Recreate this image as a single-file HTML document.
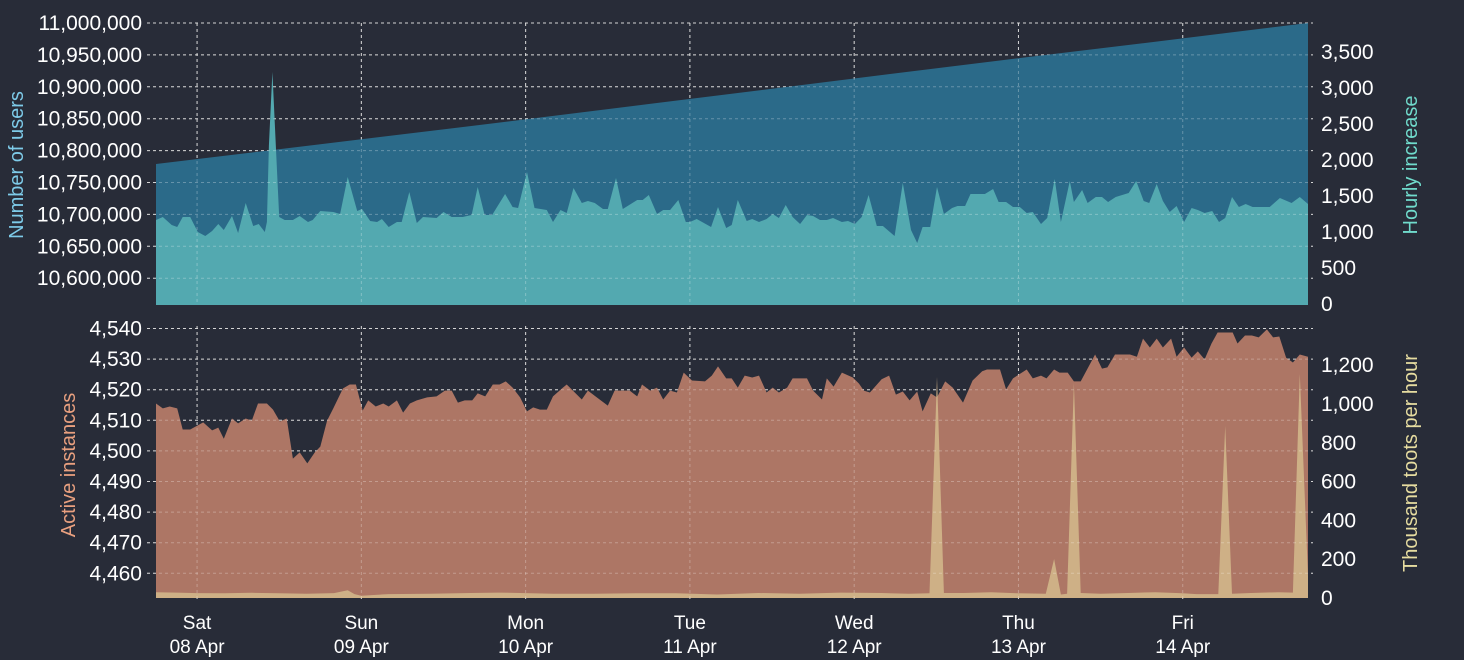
<!DOCTYPE html>
<html><head><meta charset="utf-8"><style>
html,body{margin:0;padding:0;background:#282c38;}
svg{display:block;font-family:"Liberation Sans",sans-serif;}
</style></head><body>
<svg id="chart" width="1464" height="660" viewBox="0 0 1464 660" xmlns="http://www.w3.org/2000/svg">
<rect width="1464" height="660" fill="#282c38"/>
<g id="under"></g><g id="marks"></g><g id="over"></g><g id="labels"></g>
</svg>
<script>
// ---- data ----
const userHours = [0,24,48,72,96,120,144,168.3];
const userValues = [10779000,10810000,10841000,10873000,10905000,10937000,10968000,11000000];
const incHours = [0,1,2.3,3.1,3.9,5,6.1,7.2,8.2,9.1,9.9,11.1,12,13.1,14.2,15,15.9,16.2,16.5,17,17.6,18,18.8,20,21,22.2,22.9,24,25.9,26.9,28,29.4,30.1,31.3,32.3,33,34,35.2,35.9,37,38.1,39,41,42,43.2,44.8,46.1,47,48,49.1,51,52.1,52.9,54.2,55.3,57.1,58,59.1,60,61,62.2,63.1,64.1,65.3,66,67.2,68.2,70.3,71.1,72,73.2,74.1,75.1,76.3,77.4,78,79,81.1,82.1,83.3,84.1,85,86.3,87.1,88.1,89.2,90.1,91,92,93,94.1,95.1,96,97,98,98.9,100.2,101.1,102.1,103.1,104.1,105.3,106.2,107.9,109.1,110.3,111.2,112,113.1,114.1,115.1,116.3,117.1,118.2,119,121.1,122.3,123.1,124.2,125.2,126.2,127.2,128.1,129.3,130.2,131.3,132.2,133.5,134.1,135.3,136.1,137.3,138.2,139.1,140.2,142.1,143.2,144.3,145.1,146.2,147.1,148.1,149.1,150.2,151.3,152.2,153.2,154.3,155.3,156.2,157.2,158.2,159.2,160.2,162.7,164.2,165.9,167.1,168.3];
const incValues = [1167,1208,1097,1069,1208,1208,1000,944,1014,1111,1028,1222,986,1403,1083,1111,1000,1139,2200,3222,2000,1208,1167,1167,1222,1139,1167,1292,1278,1250,1764,1292,1319,1153,1139,1181,1069,1139,1139,1556,1125,1208,1194,1278,1208,1208,1236,1625,1236,1236,1528,1347,1333,1833,1333,1306,1139,1306,1264,1611,1403,1431,1403,1319,1319,1750,1319,1444,1444,1514,1250,1306,1306,1444,1139,1139,1181,1069,1347,1056,1097,1444,1153,1181,1139,1181,1250,1194,1375,1208,1111,1236,1222,1167,1167,1194,1139,1153,1111,1208,1514,1083,1083,944,1681,1028,847,1069,1069,1625,1250,1333,1361,1361,1528,1528,1597,1417,1417,1347,1347,1264,1278,1111,1194,1736,1139,1708,1417,1583,1403,1486,1486,1417,1486,1542,1708,1431,1403,1667,1431,1278,1361,1139,1333,1306,1264,1292,1139,1194,1486,1347,1389,1347,1347,1472,1403,1486,1389];
const instHours = [0,1,2,3.1,3.9,5,6.9,8.2,9.1,9.9,11.1,12,13.1,14,14.9,16.2,17.1,18.1,19.1,20,21,22.1,23.2,24,25,25.9,27.3,28.3,29.2,30.2,31,32.1,33.2,34,35.2,36.1,37.1,38.1,39.6,41,42.2,43.2,44.1,45.1,46.2,47,48.1,49.2,50.2,51.1,52.1,53.2,54.2,55.1,56.1,57.1,58,59.3,60,60.9,62.2,63.1,64.4,66,67,69.2,70.3,71,72.2,73.2,74.1,75.1,76.1,77.1,78.3,80.2,81.2,82.1,83.3,84.1,85,86,87.1,88.1,89.2,90.1,91,92.2,93,95.1,96,97.3,98,99,100.2,101.8,102.7,103.4,104.3,106,107.1,108.1,109.1,110.1,111.2,112,113.2,114.1,115.3,116.4,117.9,119.3,120.7,121.4,123.3,124.2,125.2,126.1,127.2,128.1,129.3,130.1,131.2,132,133.2,134.1,135.1,137.2,138.2,139,140.1,142.3,143.3,144.2,145.2,146.2,147.1,148.3,149.1,150.2,151.3,152.2,153.2,154.2,155.1,157.3,158,159.1,160.1,161.1,162.3,163.2,164.1,165.1,166.1,167.1,168.3];
const instValues = [4515.5,4513.9,4514.5,4513.9,4507,4507,4509.3,4506.7,4507.6,4504,4510.6,4509,4510.6,4509.9,4515.5,4515.5,4513.5,4509.6,4510.6,4497.5,4499.5,4495.9,4499.5,4501.4,4509.9,4513.9,4520.4,4521.7,4521.7,4513.2,4516.5,4514.5,4515.5,4514.5,4516.5,4512.5,4515.5,4516.5,4517.5,4517.8,4519.7,4519.7,4515.8,4516.5,4516.5,4518.8,4517.8,4521.7,4521.7,4522.7,4520.7,4517.5,4512.9,4514.2,4513.5,4513.5,4517.8,4520.4,4521.7,4519.7,4516.8,4519.7,4517.5,4514.8,4519.7,4519.7,4517.8,4521.7,4519.7,4520.7,4516.8,4519.7,4519.1,4525.6,4523,4522.7,4524.6,4527.6,4523.7,4523.7,4520.7,4524.6,4524,4524.6,4519.1,4520.7,4519.1,4520.7,4523.7,4523.7,4519.7,4516.8,4523.7,4521,4525.6,4524,4522,4519.7,4519.1,4523.4,4524.6,4518.4,4519.4,4516.5,4519.4,4512.9,4518.8,4517.5,4522.7,4520.7,4515.8,4523,4526,4526.6,4526.6,4520.1,4523.7,4525,4526.6,4523.7,4524.6,4523.7,4526.6,4525.6,4525.6,4522.7,4522.7,4531.5,4526.9,4527.3,4531.5,4531.5,4530.8,4536.7,4533.8,4536.7,4533.8,4536.7,4530.8,4533.8,4530.5,4532.5,4529.9,4535.1,4538.7,4538.7,4535.1,4537.7,4537.7,4537.1,4539.7,4537.1,4537.4,4530.5,4528.9,4531.5,4530.8];
const tootHours = [0,3,6,10,14,18,22,26,28,29,30,34,40,46,50,54,58,64,70,76,82,88,94,100,106,110,113,114.1,115.1,118,122,126,130,131.2,132.2,133.1,134.1,135.1,138,142,146,150,152,155.2,156.2,157.2,160,164,166.1,167.1,168.3];
const tootValues = [30,28,25,24,27,24,22,25,40,20,12,20,22,26,28,25,22,22,24,24,18,26,22,28,26,22,24,1139,26,26,30,24,22,201,18,22,1108,26,22,26,30,24,20,20,887,22,26,30,28,1155,113];
const userTicks = [10600000,10650000,10700000,10750000,10800000,10850000,10900000,10950000,11000000];
const incTicks = [0,500,1000,1500,2000,2500,3000,3500];
const instTicks = [4460,4470,4480,4490,4500,4510,4520,4530,4540];
const tootTicks = [0,200,400,600,800,1000,1200];
const dayHours = [6,30,54,78,102,126,150];
const dayNames = ["Sat","Sun","Mon","Tue","Wed","Thu","Fri"];
const dayDates = ["08 Apr","09 Apr","10 Apr","11 Apr","12 Apr","13 Apr","14 Apr"];

// ---- scales ----
const X0=156, X1=1308, HMAX=168.3;
const xS = h => X0 + h*(X1-X0)/HMAX;
const TOP0=23, TOP1=305, BOT0=328, BOT1=598;
const yU = v => 23 + (11000000-v)*31.9/50000;
const yI = v => 304 - v*0.072;
const yA = v => 328.5 + (4540-v)*3.06;
const yT = v => 598 - v*0.194;

const NS="http://www.w3.org/2000/svg";
const G = id => document.getElementById(id);
function mk(tag, attrs, parent){const e=document.createElementNS(NS,tag);for(const k in attrs)e.setAttribute(k,attrs[k]);parent.appendChild(e);return e;}
function area(hs, vs, ys, base){
  let d="M"+xS(hs[0]).toFixed(1)+","+base;
  for(let i=0;i<hs.length;i++) d+="L"+xS(hs[i]).toFixed(1)+","+ys(vs[i]).toFixed(1);
  d+="L"+xS(hs[hs.length-1]).toFixed(1)+","+base+"Z";return d;
}
const under=G('under'), marks=G('marks'), over=G('over'), labels=G('labels');

// grid under
function grid(parent, color){
  userTicks.forEach(t=>{const l=mk('line',{x1:147,x2:1313,y1:yU(t),y2:yU(t),stroke:color,'stroke-width':1,'stroke-dasharray':'3,3'},parent);
    
    });
  instTicks.forEach(t=>{const l=mk('line',{x1:147,x2:1313,y1:yA(t),y2:yA(t),stroke:color,'stroke-width':1,'stroke-dasharray':'3,3'},parent);
    
    });
  dayHours.forEach(h=>{const x=xS(h);
    const a=mk('line',{x1:x,x2:x,y1:TOP0,y2:TOP1,stroke:color,'stroke-width':1,'stroke-dasharray':'3,3'},parent);
    
    
    const b=mk('line',{x1:x,x2:x,y1:BOT0-2,y2:BOT1+4,stroke:color,'stroke-width':1,'stroke-dasharray':'3,3'},parent);
    
    });
}
grid(under,'#c4c4c4');

// marks
let p;
p=mk('path',{d:area(userHours,userValues,yU,TOP1),fill:'#2b6a89'},marks);


p=mk('path',{d:area(incHours,incValues,yI,TOP1),fill:'#53a9b0'},marks);


p=mk('path',{d:area(instHours,instValues,yA,BOT1),fill:'#ad7665'},marks);


p=mk('path',{d:area(tootHours,tootValues,yT,BOT1),fill:'#ceb086'},marks);



grid(over,'rgba(255,255,255,0.28)');

// tick labels
function txt(x,y,s,anchor,fill,size,name){const t=mk('text',{x:x,y:y,'text-anchor':anchor,fill:fill,'font-size':size},labels);t.textContent=s;
  
  return t;}
const fmt = v => v.toLocaleString('en-US');
userTicks.forEach(t=>txt(142,yU(t)+7,fmt(t),'end','#ffffff',21,'users-tick-label'));
incTicks.forEach(t=>txt(1321,yI(t)+7,fmt(t),'start','#ffffff',21,'increase-tick-label'));
instTicks.forEach(t=>txt(142,yA(t)+7,fmt(t),'end','#ffffff',21,'instances-tick-label'));
tootTicks.forEach(t=>txt(1321,yT(t)+7,fmt(t),'start','#ffffff',21,'toots-tick-label'));
dayHours.forEach((h,i)=>{txt(xS(h),629,dayNames[i],'middle','#ffffff',19,'day-label');txt(xS(h),653,dayDates[i],'middle','#ffffff',19,'date-label');});

function vtitle(x,y,s,fill,name){const t=mk('text',{x:0,y:0,'text-anchor':'middle',fill:fill,'font-size':20,transform:`translate(${x},${y}) rotate(-90)`},labels);t.textContent=s;
  
  }
vtitle(23,165,'Number of users','#7ecbe9','y-axis-title-users');
vtitle(1417,165,'Hourly increase','#70dbcc','y-axis-title-hourly-increase');
vtitle(75,465,'Active instances','#e9a07f','y-axis-title-instances');
vtitle(1417,463,'Thousand toots per hour','#e6dca0','y-axis-title-toots');
</script>
</body></html>
